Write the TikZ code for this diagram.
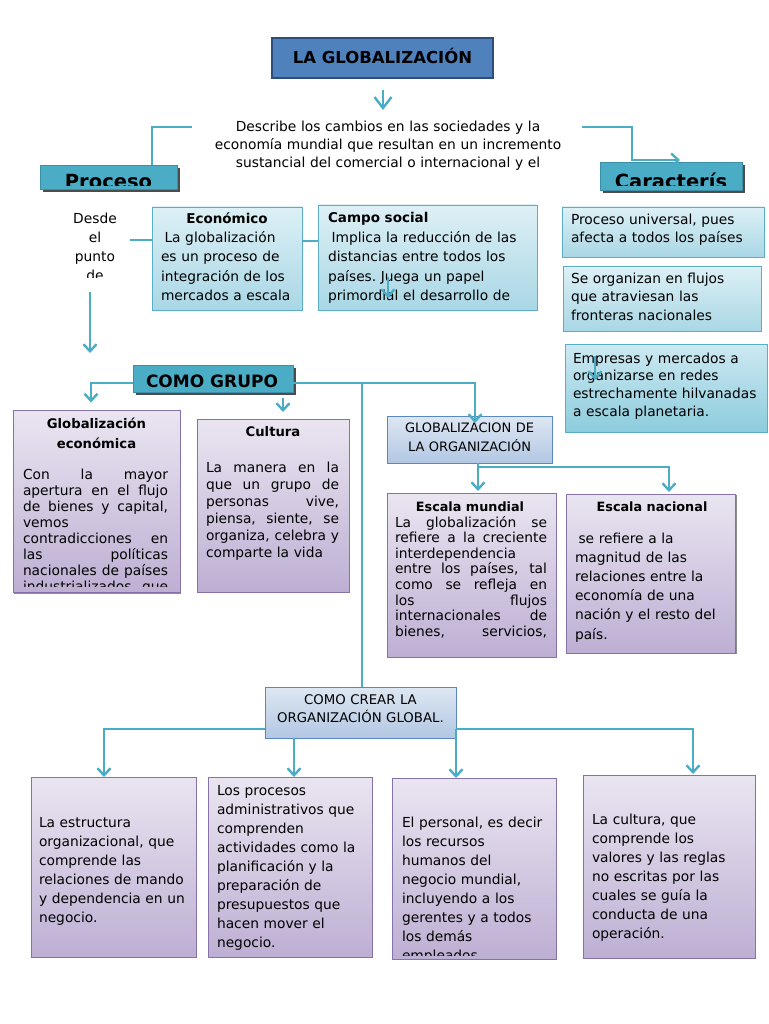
\documentclass[tikz,border=0pt]{standalone}
\usepackage{fontspec}
\setmainfont{DejaVu Sans}
\usetikzlibrary{arrows.meta,shadows,calc}
\definecolor{lnk}{HTML}{4BACC6}
\definecolor{tfill}{HTML}{4F81BD}
\definecolor{tbord}{HTML}{2E4D7B}
\definecolor{hfill}{HTML}{4BACC6}
\definecolor{hbord}{HTML}{3C8FA6}
\definecolor{cyt}{HTML}{DDF0F6}
\definecolor{cyb}{HTML}{A9D7E5}
\definecolor{cybord}{HTML}{5AAFC7}
\definecolor{cyt2}{HTML}{CDE9F2}
\definecolor{cyb2}{HTML}{8CCCDD}
\definecolor{blt}{HTML}{DEE7F3}
\definecolor{blb}{HTML}{B2C7E3}
\definecolor{blbord}{HTML}{5B87BF}
\definecolor{put}{HTML}{EAE5F1}
\definecolor{pub}{HTML}{BDAFD3}
\definecolor{pubord}{HTML}{8672A8}
\newcommand{\fs}[2]{\fontsize{#1}{#2}\selectfont}
\newcommand{\jl}[1]{\makebox[\linewidth][s]{\spaceskip=.32em plus 1fil\relax #1}}
\begin{document}
\begin{tikzpicture}[x=1pt,y=-1pt,
  every node/.style={inner sep=0pt, outer sep=0pt},
  cn/.style={draw=lnk, line width=2.4pt},
  ar/.style={cn, -{Straight Barb[length=7pt,width=13pt]}},
  bigar/.style={cn, -{Straight Barb[length=11pt,width=17pt]}},
  titlebox/.style={draw=tbord, fill=tfill, line width=1.5pt},
  hdrbox/.style={draw=hbord, fill=hfill, line width=0.6pt,
     drop shadow={shadow xshift=3pt, shadow yshift=-3pt, fill=black!70, opacity=1}},
  cybox/.style={draw=cybord, line width=0.8pt, top color=cyt, bottom color=cyb,
     drop shadow={shadow xshift=1.2pt, shadow yshift=-1.2pt, fill=black!55, opacity=1}},
  cybox2/.style={draw=cybord, line width=0.8pt, top color=cyt2, bottom color=cyb2,
     drop shadow={shadow xshift=1.2pt, shadow yshift=-1.2pt, fill=black!55, opacity=1}},
  blbox/.style={draw=blbord, line width=0.8pt, top color=blt, bottom color=blb},
  pubox/.style={draw=pubord, line width=0.8pt, top color=put, bottom color=pub,
     drop shadow={shadow xshift=1pt, shadow yshift=-1pt, fill=black!45, opacity=1}},
  body/.style={anchor=base west, align=left, font=\fs{13.8}{19}},
  ctr/.style={anchor=base, align=center},
]
\fill[white] (0,0) rectangle (768,1024);
\useasboundingbox (0,0) rectangle (768,1024);

% ---------- boxes ----------
\node[titlebox, minimum width=221, minimum height=40] (title) at (382.5,58) {};
\node[hdrbox, minimum width=137, minimum height=24] (proc) at (108.5,177) {};
\node[hdrbox, minimum width=142, minimum height=28] (carac) at (671,176) {};
\node[cybox, minimum width=150, minimum height=103] (eco) at (227,258.5) {};
\node[cybox, minimum width=219, minimum height=105] (campo) at (427.5,257.5) {};
\node[cybox, minimum width=202, minimum height=50] (r1) at (663,232) {};
\node[cybox, minimum width=198, minimum height=65] (r2) at (662,298.5) {};
\node[cybox2, minimum width=202, minimum height=88] (r3) at (666,388) {};
\node[hdrbox, minimum width=160, minimum height=27] (grupo) at (213,378.5) {};
\node[pubox, minimum width=167, minimum height=182] (gecon) at (96.5,501.5) {};
\node[pubox, minimum width=152, minimum height=173] (cult) at (273,505.5) {};
\node[blbox, minimum width=165, minimum height=47] (gorg) at (469.5,439.5) {};
\node[pubox, minimum width=169, minimum height=164] (emund) at (471.5,575) {};
\node[pubox, minimum width=169, minimum height=159] (enac) at (651,573.5) {};
\node[blbox, minimum width=191, minimum height=51] (crear) at (360.5,712.5) {};
\node[pubox, minimum width=165, minimum height=180] (b1) at (113.5,867) {};
\node[pubox, minimum width=164, minimum height=180] (b2) at (290,867) {};
\node[pubox, minimum width=164, minimum height=181] (b3) at (474,868.5) {};
\node[pubox, minimum width=172, minimum height=183] (b4) at (669,866.5) {};

% ---------- texts ----------
\node[ctr, font=\bfseries\fs{16.5}{18}] (titlet) at (382.5,64) {LA GLOBALIZACIÓN};

\begin{scope}
\clip (0,100) rectangle (768,179);
\node[ctr, text width=380, font=\fs{13.8}{18}] (intro) at (388,132)
  {Describe los cambios en las sociedades y la\\economía mundial que resultan en un incremento\\sustancial del comercial o internacional y el};
\end{scope}

\begin{scope}
\clip (40,165) rectangle (177,185.5);
\node[ctr, font=\bfseries\fs{19.5}{22}] (proct) at (108.5,189) {Proceso};
\end{scope}
\begin{scope}
\clip (600,162) rectangle (742,185.5);
\node[ctr, font=\bfseries\fs{19.5}{22}] (caract) at (671,189) {Caracterís};
\end{scope}

\begin{scope}
\clip (50,200) rectangle (140,277);
\node[ctr, text width=80, font=\fs{13.8}{19}] (desde) at (95,223) {Desde\\el\\punto\\de};
\end{scope}

\node[ctr, font=\bfseries\fs{13.5}{16}] (ecoh) at (227,223) {Económico};
\node[body, text width=142] (ecot) at (161,243)
  {\hspace{3.5pt}La globalización\\es un proceso de\\integración de los\\mercados a escala};

\node[anchor=base west, font=\bfseries\fs{13.5}{16}] (campoh) at (328,222.5) {Campo social};
\node[body, text width=205] (campot) at (328,243)
  {\hspace{3.5pt}Implica la reducción de las\\distancias entre todos los\\países.\ Juega un papel\\primordial el desarrollo de};

\node[body, text width=195, font=\fs{13.8}{18}] (r1t) at (571,225) {Proceso universal, pues\\afecta a todos los países};
\node[body, text width=195, font=\fs{13.8}{18.7}] (r2t) at (571,283) {Se organizan en flujos\\que atraviesan las\\fronteras nacionales};
\node[body, text width=195, font=\fs{13.8}{17.8}] (r3t) at (573,363) {Empresas y mercados a\\organizarse en redes\\estrechamente hilvanadas\\a escala planetaria.};

\node[ctr, font=\bfseries\fs{17}{20}] (grupot) at (212,387) {COMO GRUPO};

\node[ctr, text width=160, font=\bfseries\fs{13.2}{20}] (geconh) at (96.5,428) {Globalización\\económica};
\begin{scope}
\clip (13,460) rectangle (180,586);
\node[body, text width=145, font=\fs{13.8}{16}] (gecont) at (23,479)
  {\jl{Con la mayor}\\\jl{apertura en el flujo}\\\jl{de bienes y capital,}\\vemos\\\jl{contradicciones en}\\\jl{las políticas}\\\jl{nacionales de países}\\\jl{industrializados, que}};
\end{scope}

\node[ctr, font=\bfseries\fs{13.2}{16}] (culth) at (273,436.5) {Cultura};
\node[body, text width=133, font=\fs{13.8}{17}] (cultt) at (206,472)
  {\jl{La manera en la}\\\jl{que un grupo de}\\\jl{personas vive,}\\\jl{piensa, siente, se}\\\jl{organiza, celebra y}\\comparte la vida};

\node[ctr, text width=160, font=\fs{13}{19}] (gorgt) at (469.5,432.5) {GLOBALIZACION DE\\LA ORGANIZACIÓN};

\node[ctr, font=\bfseries\fs{12.8}{16}] (emundh) at (470,511.5) {Escala mundial};
\begin{scope}
\clip (387,515) rectangle (557,644);
\node[body, text width=152, font=\fs{13.8}{15.6}] (emundt) at (395,527)
  {\jl{La globalización se}\\\jl{refiere a la creciente}\\interdependencia\\\jl{entre los países, tal}\\\jl{como se refleja en}\\\jl{los flujos}\\\jl{internacionales de}\\\jl{bienes, servicios,}};
\end{scope}

\node[ctr, font=\bfseries\fs{12.8}{16}] (enach) at (652,511.5) {Escala nacional};
\node[body, text width=158, font=\fs{13.8}{19.2}] (enact) at (575,543)
  {\hspace{3.5pt}se refiere a la\\magnitud de las\\relaciones entre la\\economía de una\\nación y el resto del\\país.};

\node[ctr, text width=190, font=\fs{13.3}{18}] (creart) at (360.5,704.5) {COMO CREAR LA\\ORGANIZACIÓN GLOBAL.};

\node[body, text width=155] (b1t) at (39,827)
  {La estructura\\organizacional, que\\comprende las\\relaciones de mando\\y dependencia en un\\negocio.};
\node[body, text width=155] (b2t) at (217,795)
  {Los procesos\\administrativos que\\comprenden\\actividades como la\\planificación y la\\preparación de\\presupuestos que\\hacen mover el\\negocio.};
\begin{scope}
\clip (392,800) rectangle (556,955);
\node[body, text width=155] (b3t) at (402,827)
  {El personal, es decir\\los recursos\\humanos del\\negocio mundial,\\incluyendo a los\\gerentes y a todos\\los demás\\empleados.};
\end{scope}
\node[body, text width=160] (b4t) at (592,824)
  {La cultura, que\\comprende los\\valores y las reglas\\no escritas por las\\cuales se guía la\\conducta de una\\operación.};

% ---------- connectors ----------
\coordinate (introTop) at (383,110);
\draw[bigar, shorten <=12pt] ([xshift=0.5pt]title.south) -- (introTop);

\coordinate (iL) at (192,127);
\coordinate (iR) at (582,127);
\draw[cn] (iL) -| ([xshift=-25pt]proc.north east);
\draw[ar] (iR) -| ([xshift=-39pt,yshift=2pt]carac.north) -- ([xshift=9pt,yshift=2pt]carac.north);

\coordinate (dR) at (130,240);
\draw[cn] (dR) -- (dR -| eco.west);
\coordinate (ec) at (310,241);
\draw[cn] (ec -| eco.east) -- (ec -| campo.west);

\coordinate (s1) at (388,277);
\coordinate (s1e) at (388,298);
\draw[ar] (s1) -- (s1e);

\coordinate (dB) at (90,292);
\coordinate (dBe) at (90,353);
\draw[ar] (dB) -- (dBe);

\coordinate (s2) at (595,356);
\coordinate (s2e) at (595,380);
\draw[ar] (s2) -- (s2e);

\coordinate (gl) at (0,383);
\draw[ar] (gl -| grupo.west) -| ([xshift=-5.5pt,yshift=8pt]gecon.north);
\draw[ar] ([xshift=10pt,yshift=21pt]cult.north) -- ([xshift=10pt,yshift=7pt]cult.north);
\draw[ar] (gl -| grupo.east) -| ([xshift=5.5pt,yshift=-7pt]gorg.north);
\coordinate (tr) at (362,383);
\draw[cn] (tr) -- (tr |- crear.north);

\draw[ar] ([xshift=8.5pt]gorg.south) -- ([xshift=6.5pt,yshift=2pt]emund.north);
\coordinate (gb) at (478,467);
\draw[ar] (gb) -| ([xshift=18pt,yshift=2pt]enac.north);

\coordinate (cy) at (0,729);
\draw[ar] (cy -| crear.west) -| ([xshift=-9.5pt]b1.north);
\draw[ar] ([xshift=-66.5pt]crear.south) -- ([xshift=4pt]b2.north);
\draw[ar] ([yshift=9pt]crear.south east) -- ([xshift=-18pt]b3.north);
\draw[ar] (cy -| crear.east) -| ([xshift=24pt,yshift=1pt]b4.north);
\end{tikzpicture}
\end{document}
